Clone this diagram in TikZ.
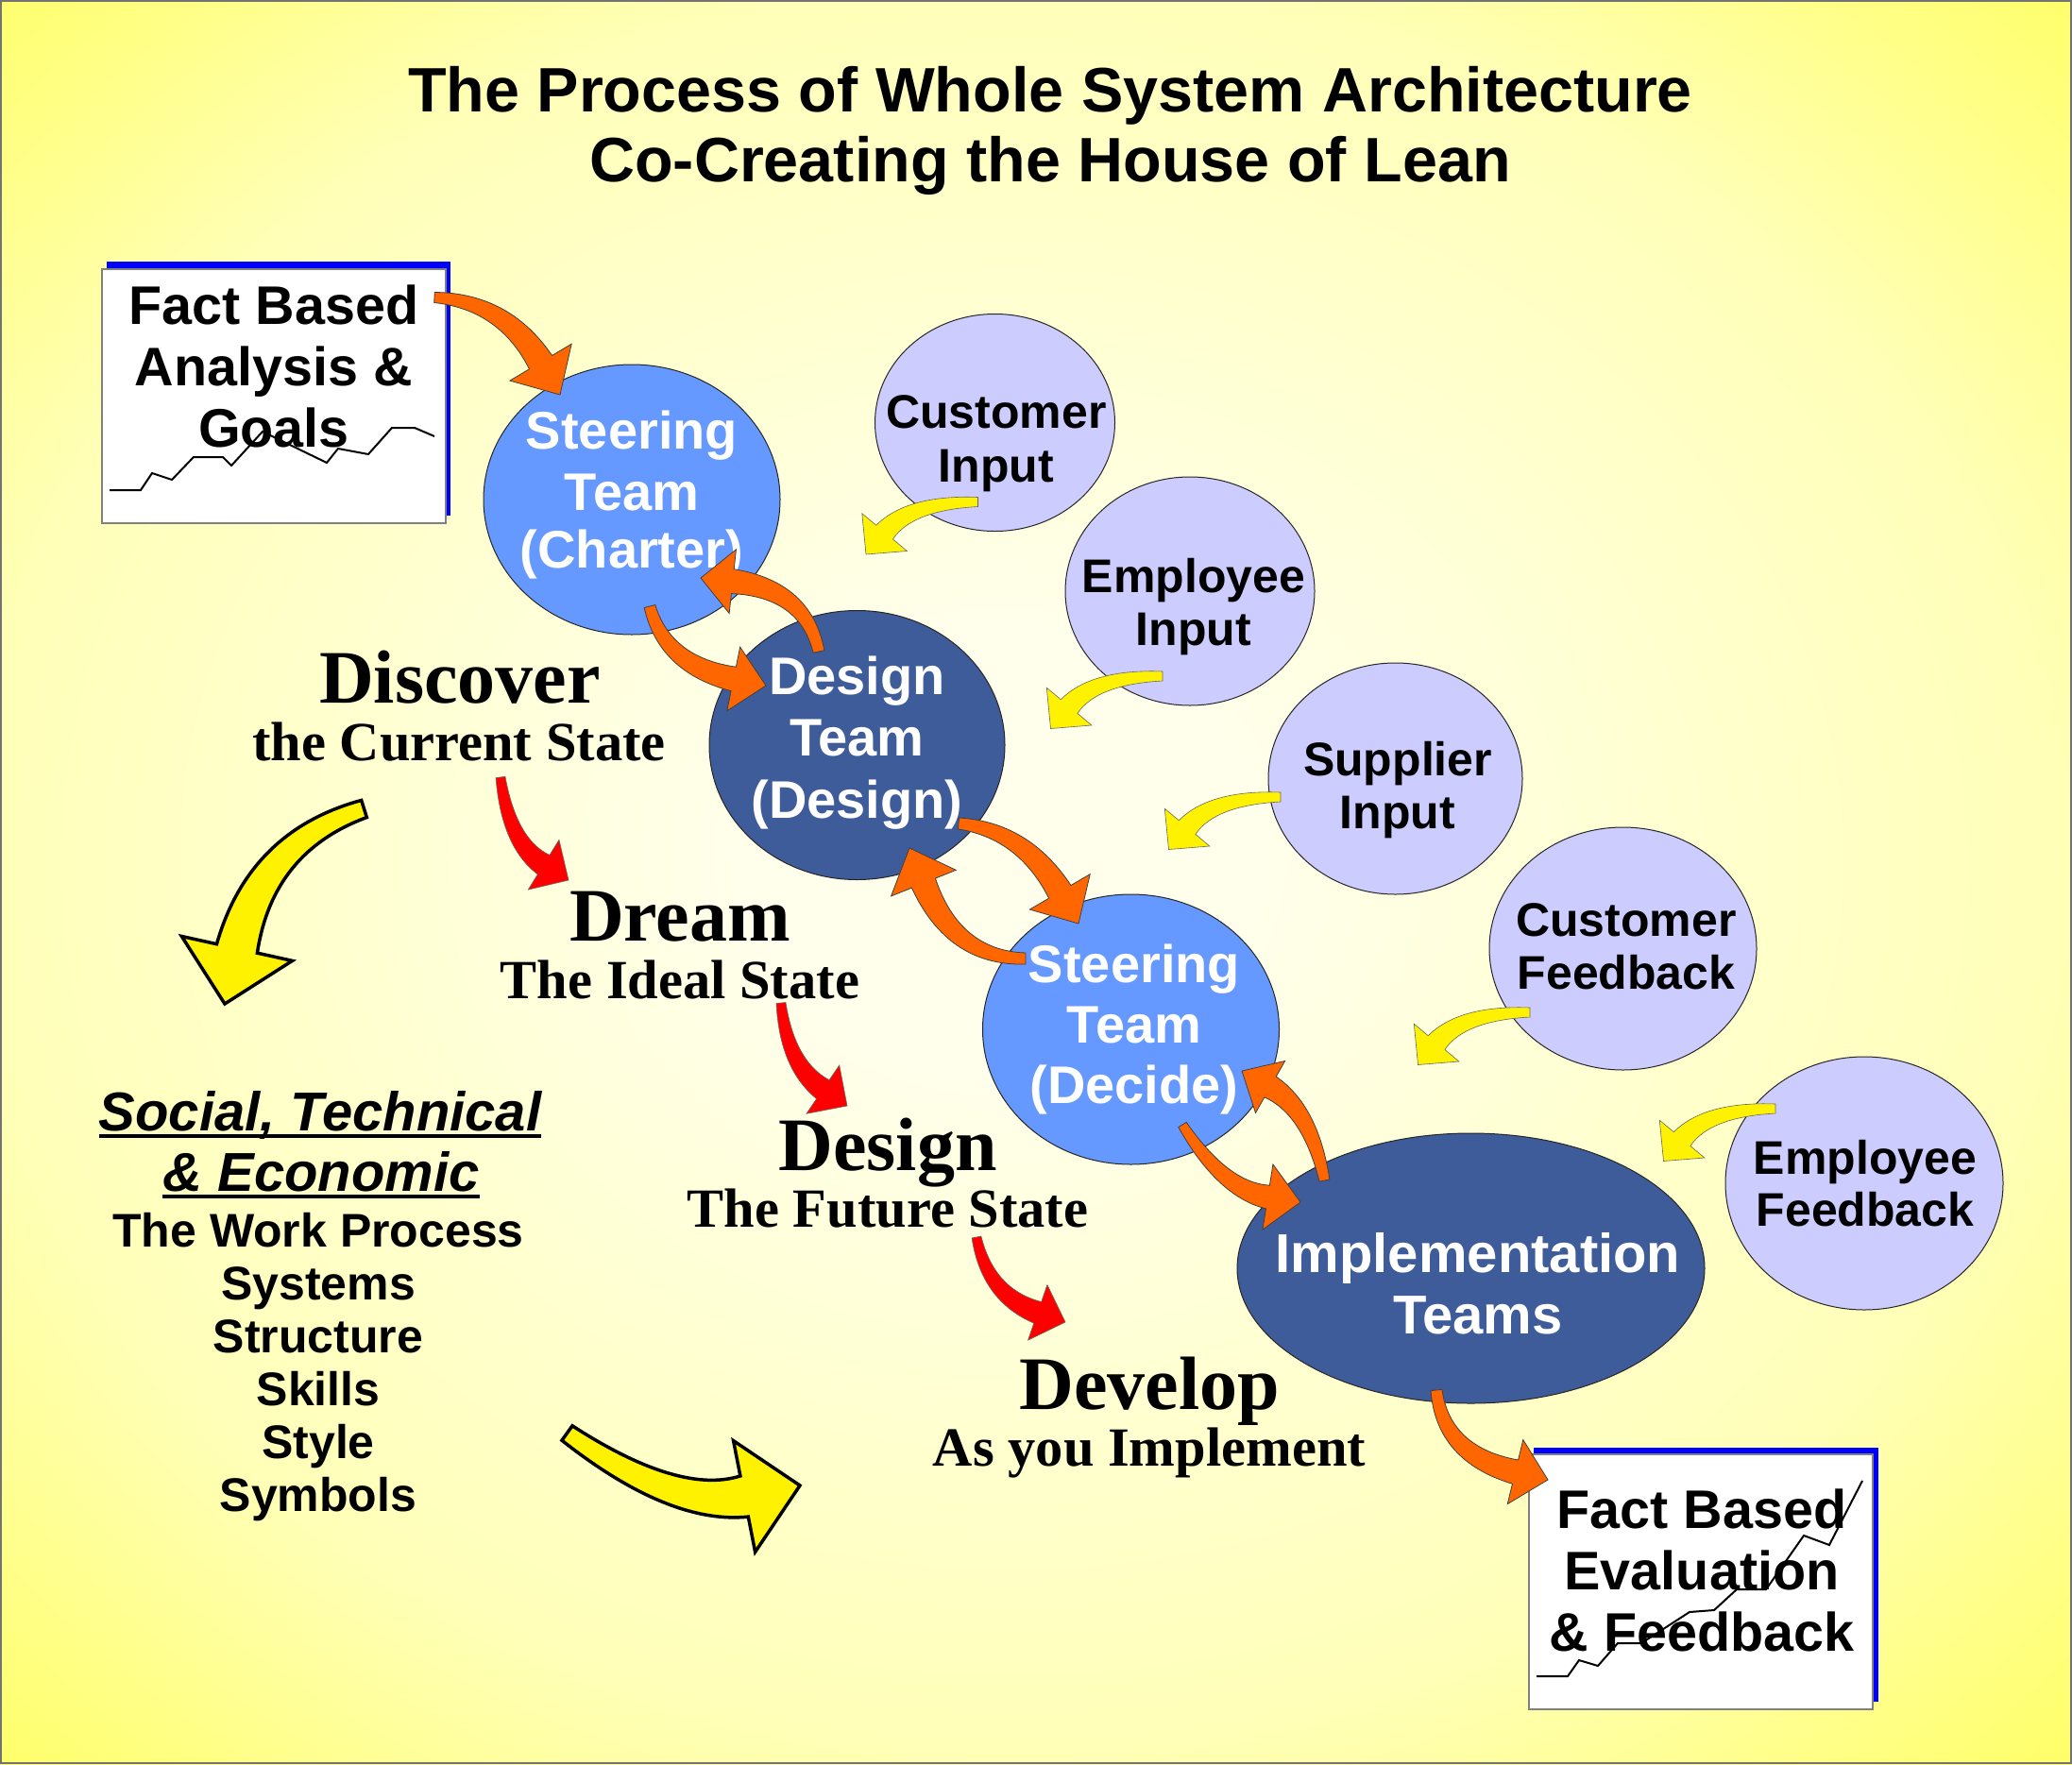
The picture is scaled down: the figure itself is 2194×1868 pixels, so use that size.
\documentclass[tikz,border=0pt]{standalone}
\usepackage{fontspec}
\setmainfont{Liberation Sans}
\newfontfamily\serifb{Liberation Serif}
\usetikzlibrary{shapes.geometric,calc}
\definecolor{bgA}{HTML}{FFFFEC}
\definecolor{bgB}{HTML}{FFFFB8}
\definecolor{bgC}{HTML}{FFFF66}
\definecolor{steer}{HTML}{6699FF}
\definecolor{darkteam}{HTML}{3E5C99}
\definecolor{lav}{HTML}{CCCCFF}
\definecolor{orng}{HTML}{FF6600}
\definecolor{shadowblue}{HTML}{0000FF}
\pgfdeclareradialshading{bgshade}{\pgfpoint{-1bp}{1bp}}{color(0bp)=(bgA); color(6bp)=(bgA); color(25bp)=(bgB); color(36bp)=(bgC); color(50bp)=(bgC)}
% tapered curved arrow: #1 tail, #2 control, #3 tip, #4 tail half width, #5 joint half width, #6 head half width, #7 head length, #8 style
\newcommand\carrow[8]{%
  \coordinate (ca-A) at (#1);
  \coordinate (ca-C) at (#2);
  \coordinate (ca-T) at (#3);
  \coordinate (ca-B) at ($(ca-T)!#7pt!(ca-C)$);
  \pgfmathsetmacro\cahm{(#4+#5)/2*1.06}%
  \coordinate (ca-Al) at ($(ca-A)!#4pt!90:(ca-C)$);
  \coordinate (ca-Ar) at ($(ca-A)!#4pt!-90:(ca-C)$);
  \coordinate (ca-Pl) at ($(ca-A)!\cahm pt!90:(ca-B)$);
  \coordinate (ca-Pr) at ($(ca-A)!\cahm pt!-90:(ca-B)$);
  \coordinate (ca-Cl) at ($(ca-C)+(ca-Pl)-(ca-A)$);
  \coordinate (ca-Cr) at ($(ca-C)+(ca-Pr)-(ca-A)$);
  \coordinate (ca-Bl) at ($(ca-B)!#5pt!-90:(ca-C)$);
  \coordinate (ca-Br) at ($(ca-B)!#5pt!90:(ca-C)$);
  \coordinate (ca-Wl) at ($(ca-B)!#6pt!-90:(ca-C)$);
  \coordinate (ca-Wr) at ($(ca-B)!#6pt!90:(ca-C)$);
  \filldraw[#8] (ca-Al) .. controls ($(ca-Al)!2/3!(ca-Cl)$) and ($(ca-Bl)!2/3!(ca-Cl)$) .. (ca-Bl) -- (ca-Wl) -- (ca-T) -- (ca-Wr) -- (ca-Br) .. controls ($(ca-Br)!2/3!(ca-Cr)$) and ($(ca-Ar)!2/3!(ca-Cr)$) .. (ca-Ar) -- cycle;
}
% small yellow input arrow, tail given
\newcommand\yinarrow[1]{%
  \carrow{#1}{$(#1)+(-72.5,0.5)$}{$(#1)+(-118.5,55.5)$}{5}{11.5}{31}{30.5}{yarrow}%
}
\begin{document}
\begin{tikzpicture}[x=1pt,y=-1pt,
  txt/.style={inner sep=0pt, outer sep=0pt, anchor=base},
  ttl/.style={txt, font=\fontsize{66.5}{74}\selectfont\bfseries},
  boxt/.style={txt, font=\fontsize{57.5}{65}\selectfont\bfseries},
  teamt/.style={txt, text=white, font=\fontsize{56}{63}\selectfont\bfseries},
  implt/.style={txt, text=white, font=\fontsize{58}{65}\selectfont\bfseries},
  inpt/.style={txt, font=\fontsize{50}{57}\selectfont\bfseries},
  headt/.style={txt, font=\fontsize{80}{80}\selectfont\serifb\bfseries},
  subt/.style={txt, font=\fontsize{58.5}{60}\selectfont\serifb\bfseries},
  soct/.style={txt, font=\fontsize{58}{64}\selectfont\bfseries\itshape},
  listt/.style={txt, font=\fontsize{50}{56}\selectfont\bfseries},
  oval/.style={ellipse, draw=black!85, line width=1pt, inner sep=0pt},
  steerov/.style={oval, fill=steer},
  darkov/.style={oval, fill=darkteam},
  lavov/.style={oval, fill=lav},
  factbox/.style={draw=black!50, line width=1.5pt, fill=white, inner sep=0pt},
  chartline/.style={line width=2pt, line join=miter},
  oarrow/.style={fill=orng, draw=black!75, line width=0.8pt},
  rarrow/.style={fill=red, draw=black!60, line width=0.6pt},
  yarrow/.style={fill=yellow, draw=black!60, line width=0.6pt},
  byarrow/.style={fill=yellow, draw=black, line width=3.5pt, line join=miter}
]
\useasboundingbox (0,0) rectangle (2194,1868);
\shade[shading=bgshade] (0,0) rectangle (2194,1868);
\draw[black!55, line width=2pt] (1,1) rectangle (2193,1867);

% title
\node[ttl] (t1) at (1112,118) {The Process of Whole System Architecture};
\node[ttl] (t2) at (1112,192) {Co-Creating the House of Lean};

% fact based analysis box
\fill[shadowblue] (113,277) rectangle (477,546);
\node[factbox, minimum width=364pt, minimum height=269pt] (fab) at (290,419.5) {};
\draw[chartline] (116,519) -- (149,519) -- (161,501) -- (182,508) -- (205,484) -- (236,484) -- (245,493) -- (278,457) -- (346,490) -- (358,475) -- (390,481) -- (415,453) -- (439,453) -- (460,462);
\node[boxt] (fab1) at (290,343) {Fact Based};
\node[boxt] (fab2) at (290,408) {Analysis \&};
\node[boxt] (fab3) at (290,473) {Goals};

% fact based evaluation box
\fill[shadowblue] (1624,1533) rectangle (1989,1802);
\node[factbox, minimum width=364pt, minimum height=270pt] (fbe) at (1801,1675) {};
\draw[chartline] (1627,1775) -- (1660,1775) -- (1672,1758) -- (1692,1764) -- (1713,1740) -- (1738,1740) -- (1789,1707) -- (1815,1705) -- (1839,1683) -- (1870,1683) -- (1910,1626) -- (1937,1636) -- (1972,1568);
\node[boxt] (fbe1) at (1802,1618) {Fact Based};
\node[boxt] (fbe2) at (1802,1683) {Evaluation};
\node[boxt] (fbe3) at (1802,1748) {\& Feedback};

% team ovals
\node[steerov, minimum width=314pt, minimum height=286pt] (stc) at (669,529) {};
\node[teamt] (stc1) at (669,475) {Steering};
\node[teamt] (stc2) at (669,540) {Team};
\node[teamt] (stc3) at (669,601) {(Charter)};

\node[darkov, minimum width=313pt, minimum height=285pt] (dt) at (907.5,789) {};
\node[teamt] (dt1) at (907.5,735) {Design};
\node[teamt] (dt2) at (907.5,800) {Team};
\node[teamt] (dt3) at (907.5,866) {(Design)};

\node[steerov, minimum width=314pt, minimum height=286pt] (std) at (1197.5,1090) {};
\node[teamt] (std1) at (1201,1040) {Steering};
\node[teamt] (std2) at (1201,1104) {Team};
\node[teamt] (std3) at (1201,1168) {(Decide)};

\node[darkov, minimum width=495pt, minimum height=286pt] (impl) at (1557.5,1343) {};
\node[implt] (impl1) at (1565,1347) {Implementation};
\node[implt] (impl2) at (1565,1412) {Teams};

% input / feedback ovals
\node[lavov, minimum width=254pt, minimum height=230pt] (ci) at (1053.5,447.5) {};
\node[inpt] (ci1) at (1055,453) {Customer};
\node[inpt] (ci2) at (1055,510) {Input};

\node[lavov, minimum width=264pt, minimum height=242pt] (ei) at (1260,626) {};
\node[inpt] (ei1) at (1264,627) {Employee};
\node[inpt] (ei2) at (1264,683) {Input};

\node[lavov, minimum width=269pt, minimum height=245pt] (si) at (1477.5,824.5) {};
\node[inpt] (si1) at (1480,821) {Supplier};
\node[inpt] (si2) at (1480,877) {Input};

\node[lavov, minimum width=283pt, minimum height=257pt] (cf) at (1718.5,1004.5) {};
\node[inpt] (cf1) at (1722,991) {Customer};
\node[inpt] (cf2) at (1722,1047) {Feedback};

\node[lavov, minimum width=294pt, minimum height=268pt] (ef) at (1974,1253) {};
\node[inpt] (ef1) at (1975,1243) {Employee};
\node[inpt] (ef2) at (1975,1298) {Feedback};

% phase headings
\node[headt] (h1) at (487,744) {Discover};
\node[subt] (s1) at (486,805) {the Current State};
\node[headt] (h2) at (720,996) {Dream};
\node[subt] (s2) at (720,1057) {The Ideal State};
\node[headt] (h3) at (940,1239) {Design};
\node[subt] (s3) at (940,1299) {The Future State};
\node[headt] (h4) at (1217,1492) {Develop};
\node[subt] (s4) at (1217,1552) {As you Implement};

% left list
\node[soct] (l1) at (339,1197) {Social, Technical};
\node[soct] (l2) at (340,1261) {\& Economic};
\draw[line width=3.5pt] ([yshift=-6pt]l1.base west) -- ([yshift=-6pt]l1.base east);
\draw[line width=3.5pt] ([yshift=-6pt]l2.base west) -- ([yshift=-6pt]l2.base east);
\node[listt] (l3) at (337,1320) {The Work Process};
\node[listt] (l4) at (337,1376) {Systems};
\node[listt] (l5) at (337,1432) {Structure};
\node[listt] (l6) at (337,1488) {Skills};
\node[listt] (l7) at (337,1544) {Style};
\node[listt] (l8) at (337,1600) {Symbols};

% arrow end points
\coordinate (o1s) at (460,315);   \coordinate (o1e) at (593,418);
\coordinate (o2s) at (688,642);   \coordinate (o2e) at (811,726);
\coordinate (o3s) at (867,690);   \coordinate (o3e) at (742,612);
\coordinate (o4s) at (1015,872);  \coordinate (o4e) at (1142,978);
\coordinate (o5s) at (1086,1015); \coordinate (o5e) at (963,898);
\coordinate (o6s) at (1252,1191); \coordinate (o6e) at (1377,1273);
\coordinate (o7s) at (1402.5,1250); \coordinate (o7e) at (1315,1134);
\coordinate (o8s) at (1521,1472); \coordinate (o8e) at (1639,1567);
\coordinate (r1s) at (530,823);   \coordinate (r1e) at (602,932);
\coordinate (r2s) at (827,1062);  \coordinate (r2e) at (897,1171);
\coordinate (r3s) at (1034,1310); \coordinate (r3e) at (1128,1400);
\coordinate (y1s) at (385.5,856.5); \coordinate (y1e) at (238,1063);
\coordinate (y2s) at (600.5,1517.5); \coordinate (y2e) at (847,1573);
\coordinate (cis) at (1035.5,531.5);
\coordinate (eis) at (1231,716);
\coordinate (sis) at (1356,844);
\coordinate (cfs) at (1620,1072);
\coordinate (efs) at (1880,1174);

% orange arrows
\carrow{o1s}{534,319}{o1e}{5.5}{14}{38}{40}{oarrow}
\carrow{o2s}{704,704}{o2e}{6}{13}{34.5}{35}{oarrow}
\carrow{o3s}{853,624}{o3e}{6}{13}{34}{34}{oarrow}
\carrow{o4s}{1084,879}{o4e}{6}{13.5}{37}{39}{oarrow}
\carrow{o5s}{1010,1015}{o5e}{6}{13.5}{37}{40}{oarrow}
\carrow{o6s}{1295,1260}{o6e}{5}{12.5}{35}{35}{oarrow}
\carrow{o7s}{1387.5,1175}{o7e}{5.5}{12.5}{31.6}{34.5}{oarrow}
\carrow{o8s}{1528,1540}{o8e}{6}{13}{35}{35.5}{oarrow}

% red arrows
\carrow{r1s}{539,893}{r1e}{5}{12}{31}{31}{rarrow}
\carrow{r2s}{833.6,1128}{r2e}{5}{12}{31}{31}{rarrow}
\carrow{r3s}{1046,1371.5}{r3e}{5}{12}{31}{31}{rarrow}

% small yellow arrows
\yinarrow{cis}
\yinarrow{eis}
\yinarrow{sis}
\yinarrow{cfs}
\yinarrow{efs}

% big yellow arrows
\carrow{y1s}{276,891}{y1e}{9.5}{22}{60}{60}{byarrow}
\carrow{y2s}{714,1599}{y2e}{9.5}{22}{60}{60}{byarrow}
\end{tikzpicture}
\end{document}
